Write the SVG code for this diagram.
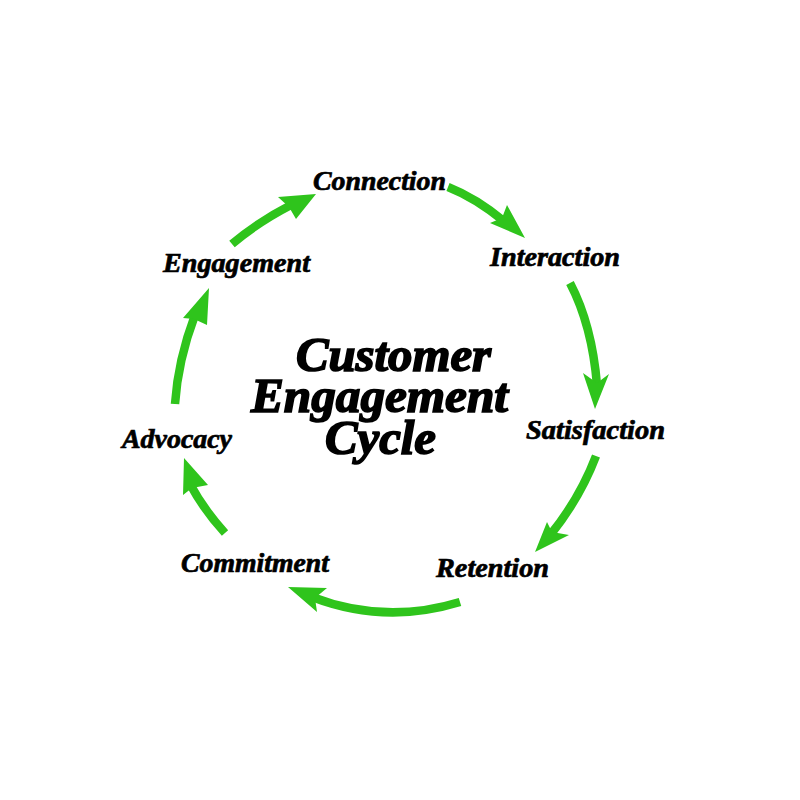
<svg xmlns="http://www.w3.org/2000/svg" width="800" height="800" viewBox="0 0 800 800">
<style>
text{font-family:"Liberation Serif","Times New Roman",serif;font-weight:bold;font-style:italic;fill:#000;stroke:#000}
.l{font-size:27px;stroke-width:.7px}
.t{font-size:48px;stroke-width:1.7px}
.s{fill:none;stroke:#2fc41c;stroke-width:8.5}
.h{fill:#2fc41c}
</style>
<rect width="800" height="800" fill="#fff"/>
<g id="connectors">
<path class="s" d="M448 187Q476 198 505 222"/><path class="h" d="M525 238L490 223L502 218L507 205Z"/>
<path class="s" d="M570 283Q592 325 597 385"/><path class="h" d="M595 409L583 373L597 383L609 374Z"/>
<path class="s" d="M596 456Q580 498 551 534"/><path class="h" d="M535 552L547 522L552 532L569 535Z"/>
<path class="s" d="M460 602Q385 625 312 597"/><path class="h" d="M288 587L327 588L315 598L317 612Z"/>
<path class="s" d="M225 533Q204 510 190 484"/><path class="h" d="M184 458L208 485L192 488L183 495Z"/>
<path class="s" d="M175 404Q178 360 195 315"/><path class="h" d="M209 288L207 325L194 319L183 318Z"/>
<path class="s" d="M232 244Q258 222 291 205"/><path class="h" d="M316 194L296 219L289 207L278 197Z"/>
</g>
<g id="node-connection"><text class="l" x="313" y="190" textLength="133" lengthAdjust="spacingAndGlyphs">Connection</text></g>
<g id="node-interaction"><text class="l" x="490" y="266" textLength="130" lengthAdjust="spacingAndGlyphs">Interaction</text></g>
<g id="node-satisfaction"><text class="l" x="526" y="439" textLength="139" lengthAdjust="spacingAndGlyphs">Satisfaction</text></g>
<g id="node-retention"><text class="l" x="436" y="577" textLength="113" lengthAdjust="spacingAndGlyphs">Retention</text></g>
<g id="node-commitment"><text class="l" x="181" y="572" textLength="148" lengthAdjust="spacingAndGlyphs">Commitment</text></g>
<g id="node-advocacy"><text class="l" x="122" y="448" textLength="110" lengthAdjust="spacingAndGlyphs">Advocacy</text></g>
<g id="node-engagement"><text class="l" x="163" y="272" textLength="147" lengthAdjust="spacingAndGlyphs">Engagement</text></g>
<g id="title">
<text class="t" x="296" y="371" textLength="195" lengthAdjust="spacingAndGlyphs">Customer</text>
<text class="t" x="251" y="412" textLength="257" lengthAdjust="spacingAndGlyphs">Engagement</text>
<text class="t" x="325" y="454" textLength="111" lengthAdjust="spacingAndGlyphs">Cycle</text>
</g>
</svg>
